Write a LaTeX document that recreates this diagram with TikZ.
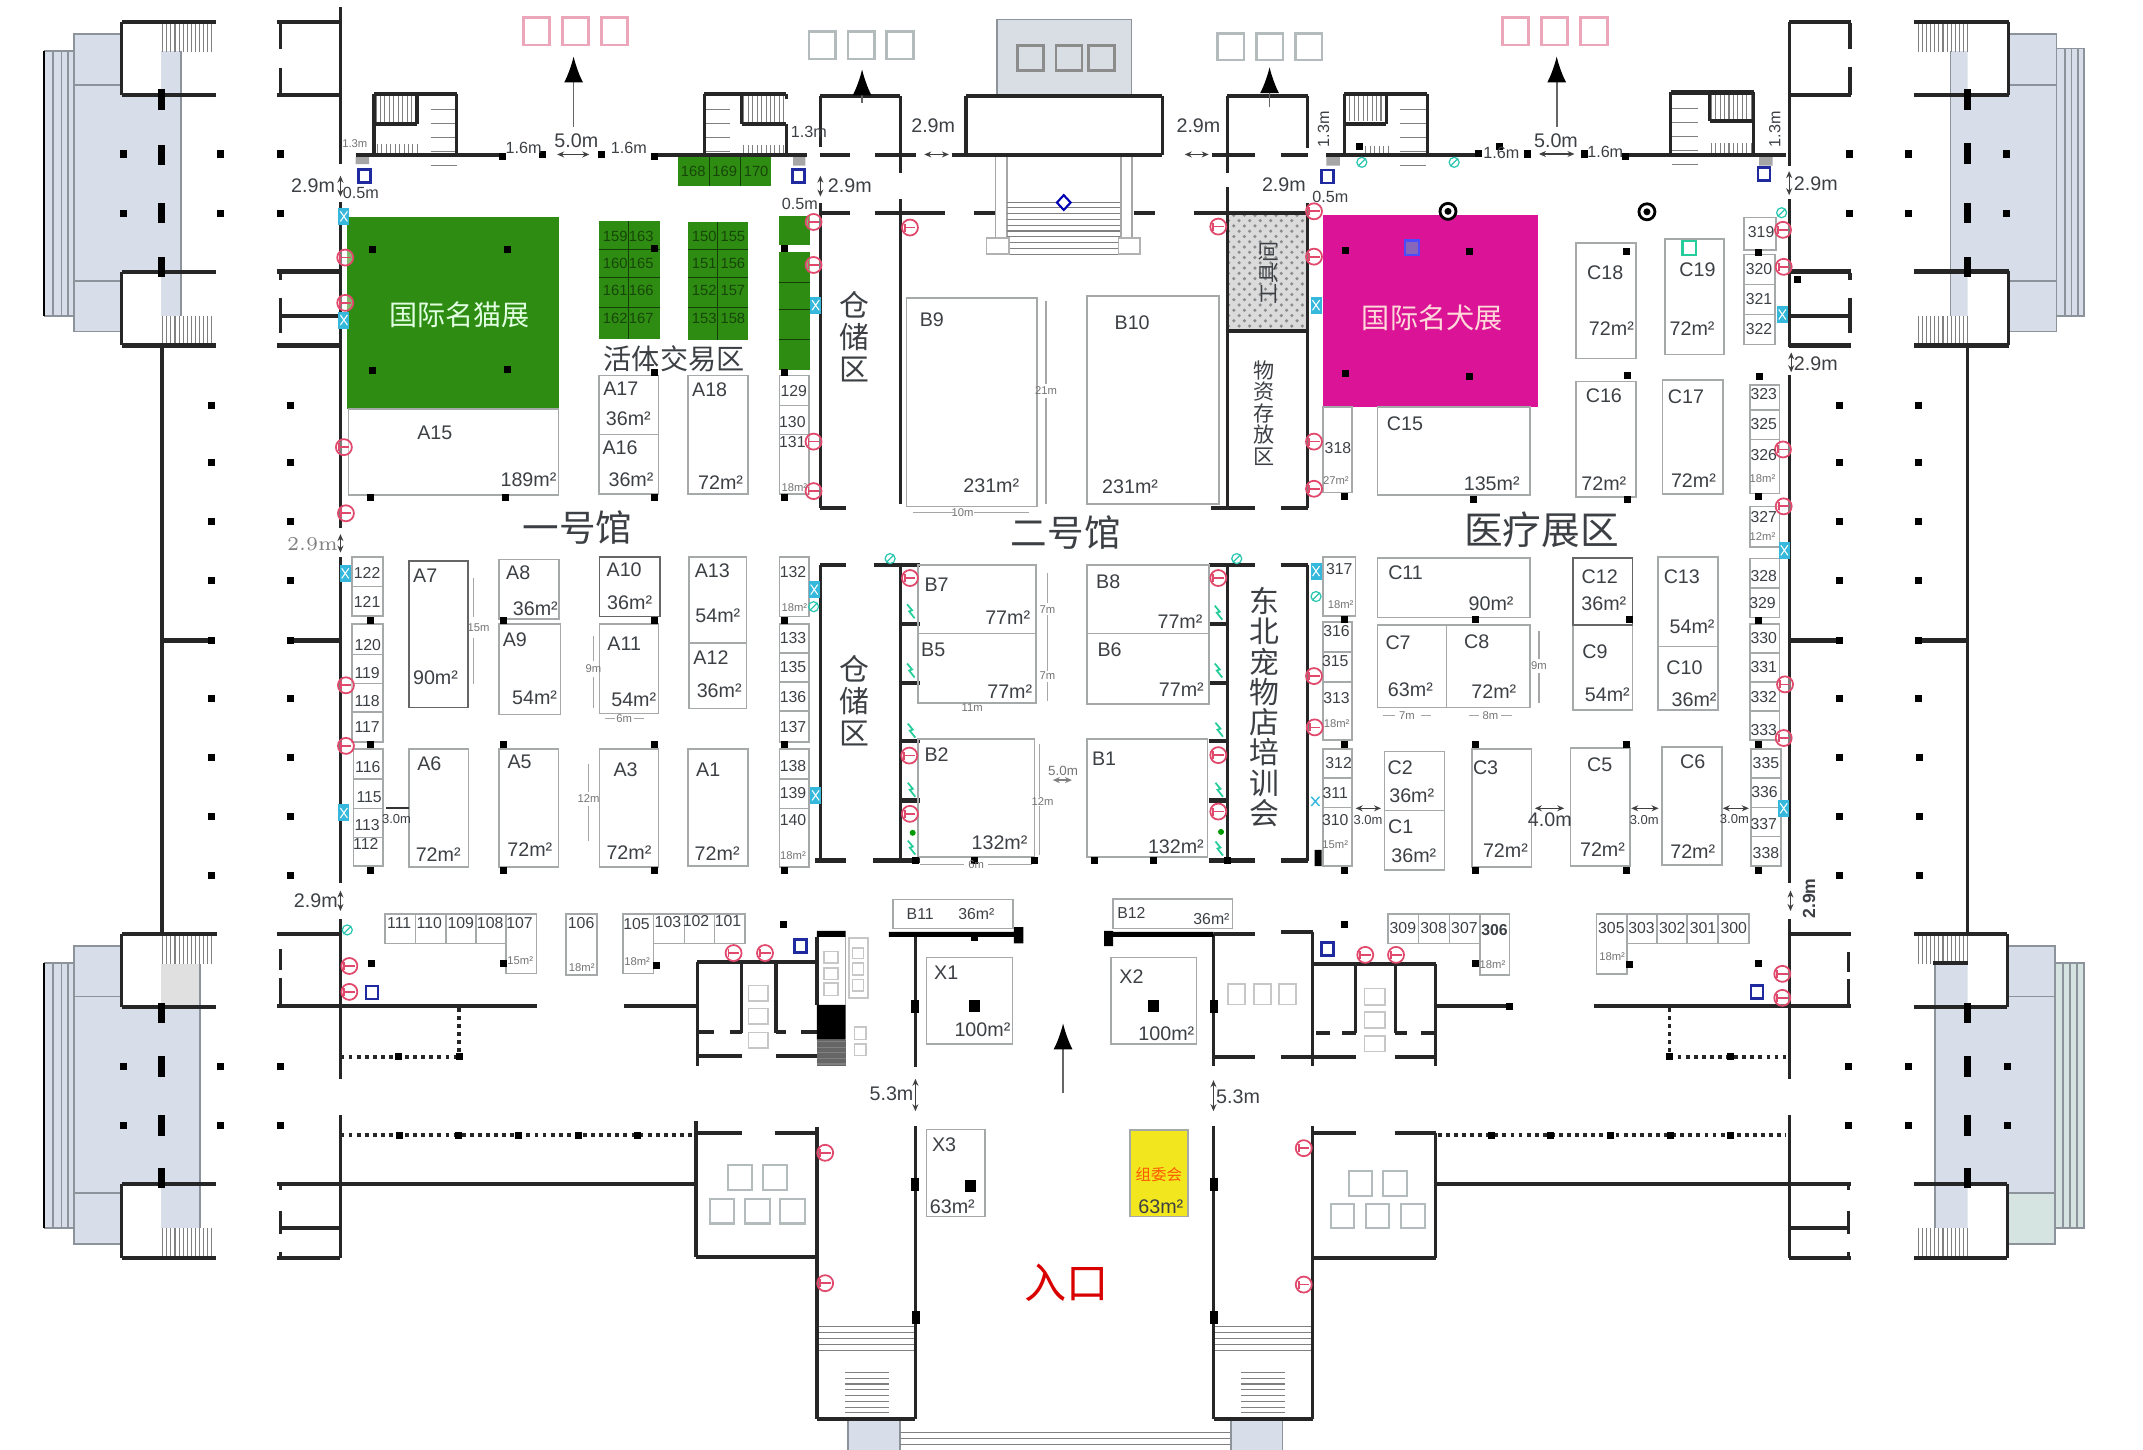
\documentclass[tikz,border=0pt]{standalone}
\usepackage{fontspec}
\setmainfont{Liberation Sans}
\newfontfamily\cjk{Noto Sans CJK SC}
\usetikzlibrary{arrows.meta,patterns}
\definecolor{hallblue}{HTML}{D7DEE9}
\definecolor{centregrey}{HTML}{D8DEE3}
\definecolor{halledge}{HTML}{8C939B}
\definecolor{hallgreen}{HTML}{D6E4E1}
\definecolor{stallgrey}{HTML}{A6A9A9}
\definecolor{inkgrey}{HTML}{3C4044}
\definecolor{catgreen}{HTML}{2E8C12}
\definecolor{dogpink}{HTML}{DB1497}
\definecolor{pinkbox}{HTML}{EBA6BA}
\definecolor{greybox}{HTML}{B4BBBD}
\definecolor{firered}{HTML}{E0486C}
\definecolor{cyanbox}{HTML}{35B8DC}
\definecolor{bluebox}{HTML}{1F2A9E}
\definecolor{officeyellow}{HTML}{F2E61E}
\tikzset{
  wall/.style={line width=0.9pt,black!85},
  hwall/.style={line width=1.2pt,black!85},
  dotwall/.style={line width=1.1pt,black!85,dash pattern=on 1.1pt off 1.2pt},
  stallline/.style={draw=stallgrey,line width=0.45pt},
  darkstall/.style={draw=black!60,line width=0.5pt},
  faintbox/.style={draw=black!22,line width=0.45pt},
  stripe/.style={line width=0.3pt,black!50},
  dimline/.style={line width=0.35pt,black!75,{Stealth[length=0.7mm,width=0.6mm]}-{Stealth[length=0.7mm,width=0.6mm]}},
  thindim/.style={line width=0.35pt,black!35},
  bigarrow/.style={line width=0.5pt,black!60,-{Latex[length=2.6mm,width=1.9mm,color=black]}},
  lbl/.style={inner sep=0pt,text=inkgrey,font=\fontsize{5.6}{6}\selectfont},
  dimlbl/.style={inner sep=0pt,text=inkgrey,font=\fontsize{4.6}{5}\selectfont},
  numlbl/.style={inner sep=0pt,text=inkgrey,font=\fontsize{4.5}{5}\selectfont},
  gaplbl/.style={inner sep=0pt,text=inkgrey,font=\fontsize{3.7}{4}\selectfont},
  tinylbl/.style={inner sep=0pt,text=black!55,font=\fontsize{3.2}{4}\selectfont},
  greenlbl/.style={inner sep=0pt,text=black!50!catgreen,font=\fontsize{4.2}{5}\selectfont},
  hanlbl/.style={inner sep=0pt,text=inkgrey,align=center},
  col/.pic={\fill[black] (-0.035cm,-0.035cm) rectangle (0.035cm,0.035cm);},
  tallcol/.pic={\fill[black] (-0.04cm,-0.065cm) rectangle (0.04cm,0.065cm);},
  bigcol/.pic={\fill[black] (-0.055cm,-0.06cm) rectangle (0.055cm,0.06cm);},
  hydrant/.pic={\draw[firered,line width=0.5pt,fill=white,fill opacity=0.4] (0,0) circle[radius=0.08cm];
    \draw[firered,line width=0.5pt] (-0.05cm,0) -- (0.055cm,0) (-0.05cm,-0.04cm) -- (-0.05cm,0.04cm);},
  cyanx/.pic={\fill[cyanbox] (-0.055cm,-0.085cm) rectangle (0.055cm,0.085cm);
    \draw[white,line width=0.3pt] (-0.035cm,-0.05cm) -- (0.035cm,0.05cm) (-0.035cm,0.05cm) -- (0.035cm,-0.05cm);},
  tealc/.pic={\draw[cyanbox!80!green,line width=0.35pt] (0,0) circle[radius=0.05cm] (-0.03cm,-0.03cm) -- (0.03cm,0.03cm);},
  bluesq/.pic={\draw[bluebox,line width=0.75pt,fill=white] (-0.06cm,-0.065cm) rectangle (0.06cm,0.065cm);},
  bolt/.pic={\draw[cyanbox!70!green,line width=0.5pt] (-0.035cm,0.07cm) -- (0.015cm,0.01cm) -- (-0.015cm,0) -- (0.04cm,-0.07cm);},
  target/.pic={\draw[black,line width=0.8pt,fill=white] (0,0) circle[radius=0.08cm]; \fill[black] (0,0) circle[radius=0.035cm];}
}
% stripes: start, from, to, count, step
\newcommand{\vstripes}[5]{\foreach \k in {0,...,#4} \draw[stripe] ({#1+\k*#5},#2) -- ({#1+\k*#5},#3);}
\newcommand{\hstripes}[5]{\foreach \k in {0,...,#4} \draw[stripe] (#2,{#1+\k*#5}) -- (#3,{#1+\k*#5});}
\begin{document}
\begin{tikzpicture}[x=0.006837cm,y=-0.004624cm]
\useasboundingbox (0,0) rectangle (3134.6,3134);

%---- top left
\begin{scope}
% hall
\foreach \xa/\ya/\xb/\yb in {65/110/108/683,108/73/178/205,108/205/265/588,108/588/178/717,236/110/265/205,236/588/265/683}
  \fill[hallblue] (\xa,\ya) rectangle (\xb,\yb);
\fill[centregrey] (1458,42) rectangle (1655,205);
\foreach \xa/\ya/\xb/\yb in {65/110/108/683,108/73/178/183,108/608/178/717,1458/42/1655/205}
  \draw[halledge,line width=0.5pt] (\xa,\ya) rectangle (\xb,\yb);
\draw[halledge,line width=0.5pt] (265,110) -- (265,683) (78,110) -- (78,683) (90,110) -- (90,683) (100,110) -- (100,683);
\draw[black,line width=0.6pt] (65,110) -- (65,683);
% stairs
\vstripes{238}{50}{112}{12}{6}
\vstripes{238}{683}{745}{12}{6}
\vstripes{550}{205}{265}{9}{6.5}
\vstripes{1088}{205}{265}{9}{6.5}
\vstripes{552}{312}{332}{9}{6.5}
\vstripes{1088}{314}{332}{9}{6.5}
\hstripes{207}{630}{668}{5}{30}
\hstripes{207}{1032}{1068}{5}{30}
\fill[black!35] (520,340) rectangle (540,355) (1160,340) rectangle (1178,358);
% centre steps
\draw[black!35,line width=0.5pt] (1456,340) -- (1456,515) (1473,340) -- (1473,515);
\hstripes{437}{1473}{1640}{9}{12.5}
\draw[black!30,fill=white,line width=0.5pt] (1443,515) rectangle (1476,550);
\draw[blue!70!black,fill=white,line width=0.6pt] (1556,422) -- (1566,438) -- (1556,454) -- (1546,438) -- cycle;
% walls
\foreach \xa/\ya/\xb/\yb in {178/47/316/47,178/205/316/205,178/588/316/588,178/747/316/747,405/47/498/47,405/205/498/205,405/587/498/587,410/683/498/683,405/747/498/747,237/1385/310/1385,420/1385/498/1385,520/335/735/335,958/335/1180/335,547/203/668/203,547/268/610/268,1030/203/1150/203,1085/268/1150/268,1200/207/1317/207,1413/207/1640/207,1200/335/1243/335,1280/335/1340/335,1392/335/1640/335,1200/461/1243/461,1280/461/1382/461,1424/461/1456/461,1200/1098/1237/1098,1200/1222/1237/1222,1278/1222/1345/1222,1317/1350/1345/1350,1317/1477/1345/1477}
  \draw[hwall] (\xa,\ya) -- (\xb,\yb);
\foreach \xa/\ya/\xb/\yb in {178/47/178/205,178/588/178/747,237/747/237/1568,410/50/410/105,410/148/410/205,410/590/410/605,410/645/410/720,498/15/498/355,498/437/498/1142,498/1205/498/1568,547/203/547/335,610/205/610/268,668/203/668/335,1030/203/1030/335,1085/205/1085/268,1150/268/1150/335,1150/203/1150/215,1200/207/1200/318,1200/440/1200/1098,1317/207/1317/375,1317/430/1317/1090,1413/207/1413/335,1200/1222/1200/1568,1317/1222/1317/1568}
  \draw[wall] (\xa,\ya) -- (\xb,\yb);
% coloured areas
\fill[catgreen] (508,469) rectangle (818,885);
\foreach \xa/\ya/\xb/\yb in {992/340/1128/402,876/477/965/733,1006/480/1094/735,1140/467/1185/530,1140/545/1185/800}
  \fill[catgreen] (\xa,\ya) rectangle (\xb,\yb);
\draw[black!55!catgreen,line width=0.3pt] (1038,340) -- (1038,402) (1083,340) -- (1083,402)
  (920,477) -- (920,733) (876,540) -- (965,540) (876,600) -- (965,600) (876,665) -- (965,665)
  (1050,480) -- (1050,735) (1006,540) -- (1094,540) (1006,600) -- (1094,600) (1006,665) -- (1094,665)
  (1140,610) -- (1185,610) (1140,670) -- (1185,670) (1140,735) -- (1185,735);
% stalls
\foreach \xa/\ya/\xb/\yb in {510/885/817/1070,876/812/963/940,876/940/963/1068,1006/812/1094/1068,1140/812/1183/877,1140/877/1183/1068,1326/645/1517/1095,515/1205/560/1268,515/1268/560/1332,515/1350/560/1415,515/1415/560/1478,515/1478/560/1540,515/1540/560/1605,730/1210/818/1338,730/1350/820/1545,877/1350/963/1543,1008/1205/1092/1390,1008/1390/1092/1532,1140/1205/1183/1333,1140/1350/1183/1412,1140/1412/1183/1475,1140/1475/1183/1537,1140/1537/1183/1605,1343/1222/1515/1370,1343/1370/1515/1520}
  \draw[stallline] (\xa,\ya) rectangle (\xb,\yb);
\foreach \xa/\ya/\xb/\yb in {598/1213/685/1530,877/1205/965/1333}
  \draw[darkstall] (\xa,\ya) rectangle (\xb,\yb);
\draw[stallline] (1140,940) -- (1183,940);
% size marks
\draw[thindim] (1530,650) -- (1530,830) (1530,860) -- (1530,1090) (1335,1108) -- (1395,1108) (1425,1108) -- (1505,1108) (693,1250) -- (693,1335) (693,1380) -- (693,1480) (868,1375) -- (868,1430) (868,1465) -- (868,1530) (885,1553) -- (900,1553) (927,1553) -- (942,1553) (1532,1240) -- (1532,1305) (1532,1330) -- (1532,1450) (1532,1475) -- (1532,1515);
% big boxes
\foreach \xa/\xb in {766/804,823/861,880/918}
  \draw[pinkbox,line width=0.7pt] (\xa,38) rectangle (\xb,97);
\foreach \xa/\xb in {1183/1222,1240/1279,1297/1336}
  \draw[greybox,line width=0.7pt] (\xa,68) rectangle (\xb,128);
\foreach \xa in {1488,1545,1592}
  \draw[black!45,line width=0.7pt] (\xa,98) rectangle ({\xa+38},152);
\draw[bigarrow] (839,275) -- (839,122);
\draw[bigarrow] (1261,222) -- (1261,150);
\draw[dimline] (815,334) -- (862,334);
\draw[dimline] (1352,334) -- (1388,334);
\draw[dimline] (498,380) -- (498,425);
\draw[dimline] (1200,380) -- (1200,425);
\draw[dimline] (498,1155) -- (498,1195);
% columns and signs
\foreach \x/\y in {180/333,180/461,323/333,323/461,410/333,410/461,309/876,425/876,309/1001,425/1001,309/1128,425/1128,309/1255,425/1255,309/1385,425/1385,309/1511,425/1511,735/338,793/335,880/335,958/338,545/540,743/540,545/802,743/800,542/1075,740/1075,957/1075,1148/1075,957/538,957/805,1148/538,1148/805,542/1341,736/1341,957/1341,1148/1341}
  \pic at (\x,\y) {col};
\foreach \x/\y in {236/215,236/335,236/460,236/578}
  \fill[black] ({\x-5},{\y-22}) rectangle ({\x+5},{\y+22});
\foreach \x/\y in {505/557,505/655,503/967,506/1110,506/1482,1190/480,1190/573,1190/955,1190/1062,1331/492,1331/1250}
  \pic at (\x,\y) {hydrant};
\foreach \x/\y in {503/468,503/692,1193/660,505/1240,1191/1275}
  \pic at (\x,\y) {cyanx};
\foreach \x/\y in {1190/1312,1302/1208}
  \pic at (\x,\y) {tealc};
\foreach \x/\y in {533/380,1168/380}
  \pic at (\x,\y) {bluesq};
\foreach \x/\y in {1332/1322,1332/1450}
  \pic at (\x,\y) {bolt};
% texts
\foreach \x/\y/\lab [count=\n] in {458/402/2.9m,843/305/5.0m,1243/402/2.9m,1365/272/2.9m,636/937/A15,773/1038/189m²,908/840/A17,919/905/36m²,907/968/A16,923/1038/36m²,1038/842/A18,1054/1043/72m²,1363/692/B9,1450/1050/231m²,622/1244/A7,637/1466/90m²,758/1238/A8,783/1317/36m²,753/1383/A9,782/1510/54m²,913/1233/A10,921/1303/36m²,913/1392/A11,927/1513/54m²,1042/1235/A13,1050/1332/54m²,1040/1422/A12,1052/1493/36m²,1370/1265/B7,1474/1336/77m²,1365/1406/B5,1477/1495/77m²}
  \node[lbl] (ua\n) at (\x,\y) {\lab};
\foreach \x/\y/\lab [count=\n] in {528/417/0.5m,766/320/1.6m,920/320/1.6m,1183/285/1.3m,1170/440/0.5m}
  \node[dimlbl] (ud\n) at (\x,\y) {\lab};
\node[lbl,text=black!50,font=\fontfamily{lmr}\fontsize{5.6}{6}\selectfont] (gap1) at (457,1177) {2.9m};
\foreach \x/\y/\lab [count=\n] in {1161/846/129,1159/912/130,1159/957/131,537/1239/122,537/1301/121,538/1394/120,537/1455/119,537/1517/118,537/1573/117,1160/1238/132,1160/1380/133,1160/1443/135,1160/1507/136,1160/1573/137}
  \node[numlbl] (ub\n) at (\x,\y) {\lab};
\foreach \x/\y/\lab [count=\n] in {519/311/1.3m,1162/1055/18m²,1162/1315/18m²,1530/845/21m,1408/1108/10m,700/1358/15m,868/1447/9m,913/1553/6m,1532/1318/7m,1532/1462/7m,1422/1530/11m}
  \node[tinylbl] (uc\n) at (\x,\y) {\lab};
\foreach \x/\y/\lab [count=\n] in {1014/370/168,1060/370/169,1106/370/170,900/512/159,938/512/163,900/570/160,938/570/165,900/628/161,938/628/166,900/688/162,938/688/167,1030/512/150,1072/512/155,1030/570/151,1072/570/156,1030/628/152,1072/628/157,1030/688/153,1072/688/158}
  \node[greenlbl] (ug\n) at (\x,\y) {\lab};
\node[inner sep=0pt,text=green!12,font=\cjk\fontsize{8}{9}\selectfont] (catshow) at (672,680) {国际名猫展};
\node[hanlbl,font=\cjk\fontsize{8}{9}\selectfont] (livetrade) at (986,775) {活体交易区};
\node[hanlbl,font=\cjk\fontsize{10.4}{11}\selectfont] (hallone) at (845,1140) {一号馆};
\node[hanlbl,font=\cjk\fontsize{8.5}{9}\selectfont] (storeup) at (1250,728) {仓\\储\\区};
\node[hanlbl,font=\cjk\fontsize{8.5}{9}\selectfont] (storelow) at (1250,1515) {仓\\储\\区};
\node[hanlbl,font=\cjk\fontsize{10.4}{11}\selectfont] (halltwo) at (1559,1152) {二号馆};
\end{scope}

%---- top right
\begin{scope}[shift={(1568,0)}]
\foreach \xa/\ya/\xb/\yb in {1440/105/1480/683,1370/73/1440/205,1285/205/1440/588,1370/588/1440/717,1285/110/1310/205,1285/588/1310/683}
  \fill[hallblue] (\xa,\ya) rectangle (\xb,\yb);
\fill[white] (1310,47) rectangle (1370,205) (1310,588) rectangle (1370,747);
\foreach \xa/\ya/\xb/\yb in {1440/105/1480/683,1370/73/1440/183,1370/608/1440/717}
  \draw[halledge,line width=0.5pt] (\xa,\ya) rectangle (\xb,\yb);
\draw[halledge,line width=0.5pt] (1285,110) -- (1285,683) (1452,105) -- (1452,683) (1462,105) -- (1462,683) (1472,105) -- (1472,683);
% stairs
\vstripes{1238}{50}{112}{12}{6}
\vstripes{1238}{683}{745}{12}{6}
\vstripes{400}{207}{262}{9}{6.5}
\vstripes{935}{205}{260}{9}{6.5}
\vstripes{430}{315}{332}{5}{6.5}
\vstripes{935}{310}{332}{9}{6.5}
\hstripes{207}{480}{518}{5}{30}
\hstripes{205}{878}{915}{5}{30}
\fill[black!35] (372,340) rectangle (392,358) (1005,340) rectangle (1025,358);
\draw[black!35,line width=0.5pt] (72,340) -- (72,515) (88,340) -- (88,515);
\draw[black!30,fill=white,line width=0.5pt] (68,515) rectangle (100,550);
% store room
\fill[black!14] (229,463) rectangle (345,715);
\fill[pattern=crosshatch dots,pattern color=black!45] (229,463) rectangle (345,715);
% walls
\foreach \xa/\ya/\xb/\yb in {0/207/132/207,72/335/132/335,205/335/268/335,305/335/345/335,90/461/122/461,178/461/345/461,227/207/345/207,227/716/345/716,203/1098/268/1098,305/1098/345/1098,372/335/595/335,398/203/520/203,398/268/460/268,810/335/1045/335,876/200/997/200,933/262/997/262,1049/47/1140/47,1049/205/1140/205,1049/587/1140/587,1049/683/1138/683,1049/747/1140/747,1232/47/1370/47,1232/205/1370/205,1232/587/1370/587,1232/747/1370/747,1049/1385/1128/1385,1238/1385/1310/1385,200/1222/267/1222,305/1222/345/1222,200/1350/227/1350,200/1477/227/1477}
  \draw[hwall] (\xa,\ya) -- (\xb,\yb);
\foreach \xa/\ya/\xb/\yb in {132/207/132/335,227/207/227/375,227/405/227/1098,345/207/345/320,345/440/345/1098,398/203/398/335,460/207/460/268,520/203/520/335,876/200/876/330,997/200/997/335,933/200/933/262,1049/47/1049/360,1049/430/1049/750,1049/810/1049/1568,1138/50/1138/105,1138/145/1138/205,1138/590/1138/605,1138/645/1138/720,1370/47/1370/205,1370/587/1370/747,1310/747/1310/1568,227/1222/227/1568,345/1222/345/1568}
  \draw[wall] (\xa,\ya) -- (\xb,\yb);
\fill[dogpink] (367,465) rectangle (682,880);
% stalls
\foreach \xa/\ya/\xb/\yb in {22/640/215/1090,367/880/410/1065,447/880/670/1070,737/525/825/775,867/517/954/767,737/825/825/1075,864/822/952/1068,983/470/1030/540,983/550/1028/615,983/615/1028/680,983/680/1028/745,992/833/1035/887,992/887/1035/950,992/950/1035/1067,992/1095/1035/1183,992/1208/1035/1272,992/1272/1035/1335,992/1350/1035/1412,992/1412/1035/1475,992/1475/1035/1537,992/1537/1035/1600,367/1205/415/1332,367/1345/410/1410,367/1410/410/1475,367/1475/410/1600,447/1207/670/1335,447/1352/548/1530,548/1352/670/1530,733/1352/820/1535,857/1205/945/1398,857/1398/945/1535,22/1222/200/1370,22/1370/200/1522}
  \draw[stallline] (\xa,\ya) rectangle (\xb,\yb);
\draw[darkstall] (733,1207) rectangle (820,1352);
\draw[thindim] (683,1365) -- (683,1425) (683,1455) -- (683,1520) (455,1548) -- (472,1548) (510,1548) -- (525,1548) (580,1548) -- (595,1548) (628,1548) -- (643,1548);
\foreach \xa/\xb in {630/668,687/725,744/783}
  \draw[pinkbox,line width=0.7pt] (\xa,38) rectangle (\xb,97);
\foreach \xa/\xb in {213/252,270/309,327/366}
  \draw[greybox,line width=0.7pt] (\xa,72) rectangle (\xb,130);
\draw[bigarrow] (289,232) -- (289,145);
\draw[bigarrow] (709,275) -- (709,122);
\draw[dimline] (165,334) -- (200,334);
\draw[dimline] (683,333) -- (735,333);
\draw[dimline] (1049,370) -- (1049,422);
\draw[dimline] (1052,762) -- (1052,805);
\foreach \x/\y in {1137/333,1223/333,1367/333,1137/461,1223/461,1367/461,1122/876,1238/876,1122/1001,1238/1001,1122/1128,1238/1128,1122/1255,1238/1255,1122/1385,1238/1385,1122/1511,1238/1511,595/332,625/316,667/333,749/333,810/338,421/316,400/542,581/544,400/808,582/815,811/544,813/813,812/1080,588/1080,398/1073,1004/1073,1005/815,1004/545,1061/605,398/1340,590/1340,815/1340,1004/1342}
  \pic at (\x,\y) {col};
\foreach \x/\y in {1310/215,1310/332,1310/460,1310/577}
  \fill[black] ({\x-5},{\y-22}) rectangle ({\x+5},{\y+22});
\foreach \x/\y in {214/490,354/457,354/555,354/955,354/1057,1040/497,1041/577,1040/972,1041/1095,1043/1480,214/1250,354/1462}
  \pic at (\x,\y) {hydrant};
\foreach \x/\y in {357/660,1039/680,1042/1190,357/1235}
  \pic at (\x,\y) {cyanx};
\foreach \x/\y in {1038/460,357/1290,241/1208,424/351,559/351}
  \pic at (\x,\y) {tealc};
\foreach \x/\y in {374/382,1012/376}
  \pic at (\x,\y) {bluesq};
\foreach \x/\y in {214/1325,214/1450}
  \pic at (\x,\y) {bolt};
\foreach \x/\y in {550/457,841/458}
  \pic at (\x,\y) {target};
\draw[blue!70,line width=0.6pt,fill=cyanbox!50!dogpink] (487,520) rectangle (507,552);
\draw[cyanbox!70!green,line width=0.6pt,fill=white] (893,522) rectangle (913,552);
\foreach \x/\y/\lab [count=\n] in {185/272/2.9m,310/400/2.9m,708/305/5.0m,1088/398/2.9m,1088/787/2.9m,88/698/B10,85/1053/231m²,780/590/C18,789/710/72m²,915/583/C19,907/710/72m²,778/856/C16,778/1045/72m²,898/857/C17,909/1040/72m²,487/917/C15,614/1045/135m²,53/1258/B8,158/1345/77m²,55/1405/B6,160/1492/77m²,488/1238/C11,613/1306/90m²,477/1390/C7,495/1492/63m²,592/1387/C8,617/1495/72m²,772/1248/C12,778/1306/36m²,765/1410/C9,783/1503/54m²,892/1247/C13,907/1355/54m²,896/1443/C10,910/1513/36m²}
  \node[lbl] (va\n) at (\x,\y) {\lab};
\foreach \x/\y/\lab [count=\n] in {378/425/0.5m,628/331/1.6m,780/328/1.6m}
  \node[dimlbl] (vd\n) at (\x,\y) {\lab};
\node[dimlbl,rotate=90] (up1) at (368,280) {1.3m};
\node[dimlbl,rotate=90] (up2) at (1028,280) {1.3m};
\foreach \x/\y/\lab [count=\n] in {1008/502/319,1005/582/320,1005/647/321,1005/711/322,1012/853/323,1012/917/325,1012/985/326,1012/1118/327,1012/1245/328,1010/1305/329,1012/1380/330,1012/1443/331,1012/1507/332,1012/1578/333,389/968/318,391/1230/317,387/1365/316,385/1430/315,387/1510/313}
  \node[numlbl] (vb\n) at (\x,\y) {\lab};
\foreach \x/\y/\lab [count=\n] in {1010/1035/18m²,1010/1160/12m²,386/1040/27m²,393/1307/18m²,387/1565/18m²,683/1440/9m,490/1548/7m,612/1548/8m}
  \node[tinylbl] (vc\n) at (\x,\y) {\lab};
\node[inner sep=0pt,text=pink!60,font=\cjk\fontsize{8}{9}\selectfont] (dogshow) at (527,688) {国际名犬展};
\node[hanlbl,rotate=90,font=\cjk\fontsize{6}{7}\selectfont] (toolroom) at (287,590) {工具间};
\node[hanlbl,font=\cjk\fontsize{6}{6.1}\selectfont] (goods) at (281,893) {物\\资\\存\\放\\区};
\node[hanlbl,font=\cjk\fontsize{11}{12}\selectfont] (medical) at (687,1145) {医疗展区};
\node[hanlbl,font=\cjk\fontsize{8.5}{8.6}\selectfont] (training) at (281,1529) {东\\北\\宠\\物\\店\\培\\训\\会};
\end{scope}

%---- bottom left
\begin{scope}[shift={(0,1568)}]
\foreach \xa/\ya/\xb/\yb in {65/515/108/1087,108/478/178/610,108/610/293/992,108/992/178/1122,236/992/293/1087,1240/1503/1316/1568}
  \fill[hallblue] (\xa,\ya) rectangle (\xb,\yb);
\fill[black!12] (236,517) rectangle (293,610);
\foreach \xa/\ya/\xb/\yb in {65/515/108/1087,108/478/178/587,108/1012/178/1122,1240/1503/1316/1575}
  \draw[halledge,line width=0.5pt] (\xa,\ya) rectangle (\xb,\yb);
\draw[halledge,line width=0.5pt] (293,517) -- (293,1087) (78,515) -- (78,1087) (90,515) -- (90,1087) (100,515) -- (100,1087);
\draw[black,line width=0.6pt] (65,515) -- (65,1087);
\vstripes{238}{455}{517}{12}{6}
\vstripes{238}{1087}{1150}{12}{6}
\hstripes{1300}{1197}{1337}{4}{13}
\hstripes{1400}{1236}{1301}{8}{12.5}
\hstripes{1530}{1316}{1801}{3}{13}
% walls
\foreach \xa/\ya/\xb/\yb in {1192/293/1237/293,1277/293/1345/293,1317/35/1345/35,1317/163/1345/163,178/452/318/452,178/610/316/610,178/992/316/992,178/1153/316/1153,405/452/498/452,405/608/785/608,913/608/1020/608,405/993/1018/993,410/1087/498/1087,405/1153/498/1153,1020/513/1195/513,1020/664/1045/664,1068/664/1085/664,1135/664/1150/664,1172/664/1195/664,1020/715/1085/715,1135/715/1195/715,1018/883/1085/883,1133/883/1195/883,1018/1150/1195/1150,1195/1500/1339/1500}
  \draw[hwall] (\xa,\ya) -- (\xb,\yb);
\foreach \xa/\ya/\xb/\yb in {237/0/237/450,178/452/178/610,178/992/178/1153,410/485/410/530,410/548/410/605,410/995/410/1005,410/1050/410/1100,410/1140/410/1150,498/0/498/342,498/420/498/765,498/843/498/1153,1200/0/1200/293,1317/0/1317/293,1339/452/1339/740,1339/868/1339/1500,1020/513/1020/738,1085/515/1085/665,1135/515/1135/665,1018/857/1018/1150,1195/870/1195/1500,1195/458/1195/605}
  \draw[wall] (\xa,\ya) -- (\xb,\yb);
\draw[dotwall] (672,612) -- (672,717);
\draw[dotwall] (498,717) -- (672,717);
\draw[dotwall] (498,887) -- (1015,887);
% black stair and long wall
\fill[black] (1300,447) rectangle (1490,458) (1483,437) rectangle (1497,472) (1195,445) rectangle (1237,458) (1195,605) rectangle (1237,680);
\fill[black!60] (1195,680) rectangle (1237,738);
\hstripes{685}{1195}{1237}{4}{12}
\draw[stallline] (1237,458) -- (1237,605);
% stalls
\foreach \xa/\ya/\xb/\yb in {517/52/560/117,517/117/560/180,517/180/560/243,517/243/560/305,598/52/685/307,730/52/817/307,877/52/963/307,1006/52/1094/305,1140/52/1183/117,1140/117/1183/180,1140/180/1183/307,563/408/608/472,608/408/652/472,652/408/696/472,696/408/740/472,740/408/785/537,828/408/873/540,911/408/956/537,956/408/1001/472,1001/408/1045/472,1045/408/1090/472,1306/377/1482/440,1355/503/1481/690,1355/875/1441/1063,1343/30/1513/285}
  \draw[stallline] (\xa,\ya) rectangle (\xb,\yb);
\foreach \xa/\ya/\xb/\yb in {1242/460/1270/590,1247/482/1263/505,1247/515/1263/540,1247/550/1263/575,1205/490/1226/515,1205/525/1226/550,1205/558/1226/585,1095/563/1123/597,1095/613/1123/647,1095/665/1123/698,1250/653/1267/680,1250/690/1267/715}
  \draw[faintbox] (\xa,\ya) rectangle (\xb,\yb);
\foreach \xa/\ya/\xb/\yb in {1065/952/1100/1005,1116/952/1151/1005,1038/1025/1074/1078,1090/1025/1126/1078,1141/1025/1177/1078}
  \draw[greybox,line width=0.6pt] (\xa,\ya) rectangle (\xb,\yb);
\draw[thindim] (861,85) -- (861,145) (861,175) -- (861,250) (1520,40) -- (1520,155) (1520,175) -- (1520,280) (1345,302) -- (1410,302) (1445,302) -- (1510,302);
\draw[black!80,line width=0.7pt] (565,179) -- (598,179);
\draw[bigarrow] (1555,795) -- (1555,645);
\draw[dimline] (498,358) -- (498,402);
\draw[dimline] (1339,765) -- (1339,835);
\draw[dimline,black!50] (1540,119) -- (1568,119);
% columns and signs
\foreach \x/\y in {309/70,425/70,309/198,425/198,309/325,425/325,181/738,180/866,323/738,323/866,410/738,410/866,542/43,736/43,957/43,1148/43,542/314,736/314,957/314,1148/314,1339/293,1426/293,1513/293,543/515,736/515,960/519,1146/432,1426/460,583/717,672/717,584/887,671/887,758/887,846/887,932/887}
  \pic at (\x,\y) {col};
\foreach \x/\y in {1339/608,1339/994,1340/1282}
  \pic at (\x,\y) {tallcol};
\foreach \x/\y in {1426/608,1419/996}
  \pic at (\x,\y) {bigcol};
\foreach \x/\y in {236/623,236/738,236/866,236/980}
  \fill[black] ({\x-5},{\y-22}) rectangle ({\x+5},{\y+22});
\foreach \x/\y in {506/45,1330/66,1331/192,511/521,511/577,1073/493,1119/493,1207/925,1207/1207}
  \pic at (\x,\y) {hydrant};
\foreach \x/\y in {503/190,1193/152}
  \pic at (\x,\y) {cyanx};
\pic at (508,443) {tealc};
\foreach \x/\y in {544/578,1171/478}
  \pic at (\x,\y) {bluesq};
\foreach \x/\y in {1333/12,1333/140,1333/265}
  \pic at (\x,\y) {bolt};
\fill[green!60!black] (1335,233) circle[radius=0.03cm];
\foreach \x/\y/\lab [count=\n] in {628/84/A6,641/280/72m²,760/80/A5,775/270/72m²,915/97/A3,920/275/72m²,1036/97/A1,1049/277/72m²,1370/64/B2,1462/254/132m²,1384/536/X1,1437/658/100m²,1381/908/X3,1393/1041/63m²,462/380/2.9m,1304/797/5.3m}
  \node[lbl] (wa\n) at (\x,\y) {\lab};
\foreach \x/\y/\lab [count=\n] in {538/90/116,540/156/115,537/217/113,535/258/112,1160/88/138,1160/147/139,1160/205/140,584/428/111,628/428/110,674/428/109,717/428/108,760/428/107,850/428/106,931/430/105,977/425/103,1018/423/102,1065/423/101,1346/408/B11,1428/408/36m²}
  \node[numlbl] (wb\n) at (\x,\y) {\lab};
\node[gaplbl] (wgap) at (580,204) {3.0m};
\foreach \x/\y/\lab [count=\n] in {1160/282/18m²,761/510/15m²,851/524/18m²,932/512/18m²,861/160/12m,1525/165/12m,1428/302/6m}
  \node[tinylbl] (wc\n) at (\x,\y) {\lab};
\node[tinylbl,font=\fontsize{3.8}{4}\selectfont] (gate) at (1555,100) {5.0m};
\node[inner sep=0pt,text=red!85!black,font=\cjk\fontsize{12}{13}\selectfont] (entry) at (1560,1205) {入口};
\end{scope}

%---- bottom right
\begin{scope}[shift={(1568,1568)}]
\foreach \xa/\ya/\xb/\yb in {1370/478/1440/610,1262/610/1440/992,1370/992/1440/1122,1262/517/1310/610,1262/992/1310/1087,233/1503/308/1568}
  \fill[hallblue] (\xa,\ya) rectangle (\xb,\yb);
\fill[hallgreen] (1438,515) rectangle (1480,1087) (1370,1012) rectangle (1438,1122);
\fill[white] (1310,452) rectangle (1368,610) (1310,992) rectangle (1368,1153);
\foreach \xa/\ya/\xb/\yb in {1438/515/1480/1087,1370/478/1438/587,1370/1012/1438/1122,233/1503/308/1575}
  \draw[halledge,line width=0.5pt] (\xa,\ya) rectangle (\xb,\yb);
\draw[halledge,line width=0.5pt] (1262,517) -- (1262,1087) (1450,515) -- (1450,1087) (1460,515) -- (1460,1087) (1470,515) -- (1470,1087);
\vstripes{1238}{455}{517}{12}{6}
\vstripes{1238}{1087}{1150}{12}{6}
\hstripes{1300}{209}{350}{4}{13}
\hstripes{1400}{247}{311}{8}{12.5}
% walls
\foreach \xa/\ya/\xb/\yb in {200/35/227/35,200/163/227/163,200/293/267/293,305/293/345/293,207/452/267/452,305/447/352/447,207/717/267/717,305/717/415/717,472/717/532/717,352/516/532/516,357/666/378/666,395/666/415/666,473/666/490/666,510/666/530/666,532/608/640/608,763/608/1140/608,1049/452/1140/452,1232/452/1368/452,1232/610/1368/610,1232/992/1368/992,1232/1153/1368/1153,1260/515/1310/515,533/993/1140/993,352/883/415/883,472/883/532/883,352/1152/532/1152,1049/1087/1136/1087,1049/1153/1140/1153,207/1500/352/1500}
  \draw[hwall] (\xa,\ya) -- (\xb,\yb);
\foreach \xa/\ya/\xb/\yb in {1310/0/1310/452,1049/0/1049/342,227/0/227/293,345/0/345/293,207/452/207/738,207/868/207/1500,352/447/352/738,352/868/352/1500,415/516/415/665,473/516/473/665,532/516/532/738,532/883/532/1152,1049/420/1049/765,1049/843/1049/1153,1136/490/1136/535,1136/550/1136/605,1136/995/1136/1005,1136/1050/1136/1100,1136/1140/1136/1150,1368/452/1368/610,1368/992/1368/1153}
  \draw[wall] (\xa,\ya) -- (\xb,\yb);
\draw[dotwall] (874,612) -- (874,717);
\draw[dotwall] (874,717) -- (1045,717);
\draw[dotwall] (535,887) -- (1045,887);
\fill[black] (47,447) rectangle (207,458) (47,445) rectangle (60,478) (355,270) rectangle (365,305);
\fill[officeyellow] (85,876) rectangle (170,1063);
\draw[stallline] (85,876) rectangle (170,1063);
% stalls
\foreach \xa/\ya/\xb/\yb in {22/30/198/285,367/52/410/115,367/115/410/178,367/178/410/305,457/57/545/185,457/185/545/313,585/52/672/307,729/50/816/305,863/48/951/303,993/52/1037/115,993/115/1037/178,993/178/1037/241,993/241/1037/305,60/376/235/440,57/503/182/690,462/408/507/472,507/408/552/472,552/408/597/472,597/408/640/540,767/408/812/538,812/408/856/472,856/408/900/472,900/408/945/472,945/408/990/472}
  \draw[stallline] (\xa,\ya) rectangle (\xb,\yb);
\foreach \xa/\ya/\xb/\yb in {228/560/253/604,266/560/291/604,303/560/328/604,428/570/458/605,428/620/458/655,428/672/458/706}
  \draw[faintbox] (\xa,\ya) rectangle (\xb,\yb);
\foreach \xa/\ya/\xb/\yb in {405/965/439/1018,455/965/490/1018,379/1035/413/1088,430/1035/464/1088,481/1035/516/1088}
  \draw[greybox,line width=0.6pt] (\xa,\ya) rectangle (\xb,\yb);
\foreach \xa/\xb in {415/452,677/720,818/858,952/990}
  \draw[dimline] (\xa,180) -- (\xb,180);
\draw[dimline] (1051,358) -- (1051,402);
\draw[dimline] (207,768) -- (207,835);
\foreach \x/\y in {1122/70,1239/70,1122/198,1239/198,1122/325,1239/325,1136/738,1223/738,1368/738,1136/866,1223/866,1368/866,398/43,590/43,811/43,1004/43,398/314,590/314,811/314,1004/314,33/293,119/293,227/293,398/432,590/515,816/517,1004/515,640/608,874/717,963/717,613/887,700/887,788/887,876/887,963/887}
  \pic at (\x,\y) {col};
\foreach \x/\y in {207/608,207/994,207/1282}
  \pic at (\x,\y) {tallcol};
\pic at (119,608) {bigcol};
\foreach \x/\y in {1310/623,1310/738,1310/866,1310/980}
  \fill[black] ({\x-5},{\y-22}) rectangle ({\x+5},{\y+22});
\foreach \x/\y in {355/5,1041/28,214/65,214/187,429/497,474/497,1039/538,1039/590,339/915,339/1210}
  \pic at (\x,\y) {hydrant};
\pic at (1041,180) {cyanx};
\draw[cyanbox,line width=0.4pt] (350,155) -- (362,175) (350,175) -- (362,155);
\foreach \x/\y in {374/484,1002/577}
  \pic at (\x,\y) {bluesq};
\foreach \x/\y in {215/10,215/140,215/267}
  \pic at (\x,\y) {bolt};
\fill[green!60!black] (218,231) circle[radius=0.03cm];
\foreach \x/\y/\lab [count=\n] in {47/72/B1,152/262/132m²,480/92/C2,497/152/36m²,481/220/C1,500/282/36m²,605/92/C3,634/272/72m²,772/85/C5,776/270/72m²,908/80/C6,908/273/72m²,87/543/X2,138/668/100m²,243/803/5.3m,130/1042/63m²,699/205/4.0m}
  \node[lbl] (xa\n) at (\x,\y) {\lab};
\foreach \x/\y/\lab [count=\n] in {390/82/312,385/146/311,385/206/310,1015/82/335,1013/145/336,1012/213/337,1015/276/338,484/440/309,529/440/308,574/440/307,789/440/305,833/440/303,878/440/302,923/440/301,968/440/300,87/407/B12,204/420/36m²}
  \node[numlbl] (xb\n) at (\x,\y) {\lab};
\foreach \x/\y/\lab [count=\n] in {433/206/3.0m,837/205/3.0m,969/203/3.0m}
  \node[gaplbl] (xgap\n) at (\x,\y) {\lab};
\node[numlbl,font=\bfseries\fontsize{4.5}{5}\selectfont] (stall306) at (618,443) {306};
\foreach \x/\y/\lab [count=\n] in {385/258/15m²,615/519/18m²,790/500/18m²}
  \node[tinylbl] (xc\n) at (\x,\y) {\lab};
\node[lbl,rotate=90,font=\bfseries\fontsize{5}{6}\selectfont] (gapright) at (1078,375) {2.9m};
\node[inner sep=0pt,text=orange!70!red,font=\cjk\fontsize{4.4}{5}\selectfont] (office) at (127,972) {组委会};
\end{scope}
\end{tikzpicture}
\end{document}
